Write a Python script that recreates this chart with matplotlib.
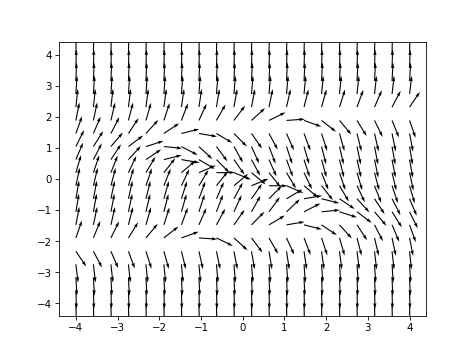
import matplotlib.pyplot as plt
import numpy as np

xs = [-4, -3.58, -3.16, -2.74, -2.32, -1.89, -1.47, -1.05, -0.63, -0.21,
      0.21, 0.63, 1.05, 1.47, 1.89, 2.32, 2.74, 3.16, 3.58, 4]
ys = [-4, -3.58, -3.16, -2.74, -2.32, -1.89, -1.47, -1.05, -0.63, -0.21,
      0.21, 0.63, 1.05, 1.47, 1.89, 2.32, 2.74, 3.16, 3.58, 4]

# slope dy/dx of each arrow, one list per y row (bottom -> top)
s00 = [-48, -48.4, -48.8, -49.3, -49.7, -50.1, -50.5, -50.9, -51.4, -51.8, -52.2, -52.6, -53.1, -53.5, -53.9, -54.3, -54.7, -55.2, -55.6, -56]
s01 = [-31.1, -31.5, -31.9, -32.4, -32.8, -33.2, -33.6, -34.0, -34.5, -34.9, -35.3, -35.7, -36.2, -36.6, -37.0, -37.4, -37.8, -38.3, -38.7, -39.1]
s02 = [-18.0, -18.4, -18.9, -19.3, -19.7, -20.1, -20.5, -21.0, -21.4, -21.8, -22.2, -22.7, -23.1, -23.5, -23.9, -24.3, -24.8, -25.2, -25.6, -26.0]
s03 = [-8.29, -8.71, -9.13, -9.55, -9.97, -10.40, -10.82, -11.24, -11.66, -12.08, -12.50, -12.92, -13.34, -13.76, -14.18, -14.61, -15.03, -15.45, -15.87, -16.29]
s04 = [-1.47, -1.89, -2.31, -2.73, -3.15, -3.58, -4.00, -4.42, -4.84, -5.26, -5.68, -6.10, -6.52, -6.94, -7.36, -7.79, -8.21, -8.63, -9.05, -9.47]
s05 = [2.88, 2.46, 2.04, 1.62, 1.20, 0.78, 0.36, -0.07, -0.49, -0.91, -1.33, -1.75, -2.17, -2.59, -3.01, -3.43, -3.85, -4.28, -4.70, -5.12]
s06 = [5.22, 4.80, 4.38, 3.96, 3.54, 3.12, 2.69, 2.27, 1.85, 1.43, 1.01, 0.59, 0.17, -0.25, -0.67, -1.10, -1.52, -1.94, -2.36, -2.78]
s07 = [5.99, 5.57, 5.15, 4.73, 4.31, 3.89, 3.47, 3.04, 2.62, 2.20, 1.78, 1.36, 0.94, 0.52, 0.10, -0.32, -0.75, -1.17, -1.59, -2.01]
s08 = [5.64, 5.22, 4.80, 4.38, 3.96, 3.54, 3.12, 2.70, 2.27, 1.85, 1.43, 1.01, 0.59, 0.17, -0.25, -0.67, -1.09, -1.52, -1.94, -2.36]
s09 = [4.62, 4.20, 3.78, 3.36, 2.94, 2.52, 2.10, 1.67, 1.25, 0.83, 0.41, -0.01, -0.43, -0.85, -1.27, -1.69, -2.11, -2.54, -2.96, -3.38]
s10 = [3.38, 2.96, 2.54, 2.11, 1.69, 1.27, 0.85, 0.43, 0.01, -0.41, -0.83, -1.25, -1.67, -2.10, -2.52, -2.94, -3.36, -3.78, -4.20, -4.62]
s11 = [2.36, 1.94, 1.52, 1.09, 0.67, 0.25, -0.17, -0.59, -1.01, -1.43, -1.85, -2.27, -2.70, -3.12, -3.54, -3.96, -4.38, -4.80, -5.22, -5.64]
s12 = [2.01, 1.59, 1.17, 0.75, 0.32, -0.10, -0.52, -0.94, -1.36, -1.78, -2.20, -2.62, -3.04, -3.47, -3.89, -4.31, -4.73, -5.15, -5.57, -5.99]
s13 = [2.78, 2.36, 1.94, 1.52, 1.10, 0.67, 0.25, -0.17, -0.59, -1.01, -1.43, -1.85, -2.27, -2.69, -3.12, -3.54, -3.96, -4.38, -4.80, -5.22]
s14 = [5.12, 4.70, 4.28, 3.85, 3.43, 3.01, 2.59, 2.17, 1.75, 1.33, 0.91, 0.49, 0.07, -0.36, -0.78, -1.20, -1.62, -2.04, -2.46, -2.88]
s15 = [9.47, 9.05, 8.63, 8.21, 7.79, 7.36, 6.94, 6.52, 6.10, 5.68, 5.26, 4.84, 4.42, 4.00, 3.58, 3.15, 2.73, 2.31, 1.89, 1.47]
s16 = [16.29, 15.87, 15.45, 15.03, 14.61, 14.18, 13.76, 13.34, 12.92, 12.50, 12.08, 11.66, 11.24, 10.82, 10.40, 9.97, 9.55, 9.13, 8.71, 8.29]
s17 = [26.0, 25.6, 25.2, 24.8, 24.3, 23.9, 23.5, 23.1, 22.7, 22.2, 21.8, 21.4, 21.0, 20.5, 20.1, 19.7, 19.3, 18.9, 18.4, 18.0]
s18 = [39.1, 38.7, 38.3, 37.8, 37.4, 37.0, 36.6, 36.2, 35.7, 35.3, 34.9, 34.5, 34.0, 33.6, 33.2, 32.8, 32.4, 31.9, 31.5, 31.1]
s19 = [56, 55.6, 55.2, 54.7, 54.3, 53.9, 53.5, 53.1, 52.6, 52.2, 51.8, 51.4, 50.9, 50.5, 50.1, 49.7, 49.3, 48.8, 48.4, 48]

slopes = np.array([s00, s01, s02, s03, s04, s05, s06, s07, s08, s09,
                   s10, s11, s12, s13, s14, s15, s16, s17, s18, s19])
X, Y = np.meshgrid(xs, ys)
# unit direction vectors (1, slope) / |(1, slope)|
norm = np.sqrt(1 + slopes**2)
U = 1 / norm
V = slopes / norm

fig, ax = plt.subplots(figsize=(6.4, 4.8), dpi=74)
ax.quiver(X, Y, U, V, scale=20)

plt.savefig("out.png", dpi=74)
